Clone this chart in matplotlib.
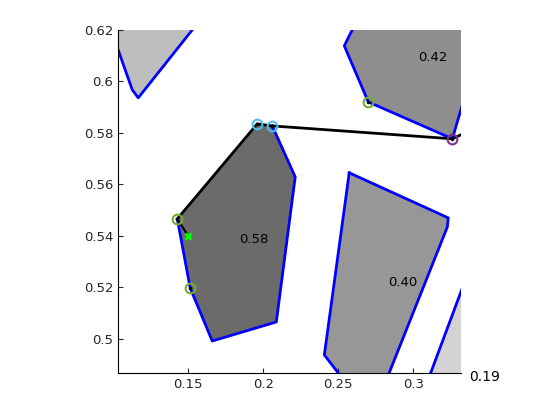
import matplotlib
matplotlib.use('Agg')
import matplotlib.pyplot as plt
from matplotlib.patches import Polygon

# Cell polygons (x, y) and their gray levels / labels
dark_x = [0.1427, 0.196, 0.206, 0.2213, 0.2087, 0.166, 0.1513]
dark_y = [0.5466, 0.5835, 0.5827, 0.5629, 0.5066, 0.4992, 0.5198]
topright_x = [0.2593, 0.254, 0.27, 0.326, 0.3327, 0.345, 0.27]
topright_y = [0.62, 0.6138, 0.592, 0.5777, 0.5909, 0.63, 0.63]
mid_x = [0.2573, 0.3233, 0.3227, 0.2813, 0.255, 0.2407]
mid_y = [0.5645, 0.547, 0.5435, 0.483, 0.483, 0.4938]
lowright_x = [0.3085, 0.3327, 0.34, 0.34]
lowright_y = [0.482, 0.5198, 0.5198, 0.482]
topleft_x = [0.10, 0.1033, 0.1127, 0.1167, 0.1527, 0.156]
topleft_y = [0.625, 0.6122, 0.5967, 0.5936, 0.62, 0.625]

labels = ['0.58', '0.42', '0.40']
label_x = [0.184, 0.3033, 0.283]
label_y = [0.5385, 0.6091, 0.5221]

# Path (black) and markers
path_x = [0.1427, 0.196, 0.206, 0.326, 0.34]
path_y = [0.5466, 0.5835, 0.5827, 0.5777, 0.5815]
green_x = [0.1427, 0.1513, 0.27]
green_y = [0.5466, 0.5198, 0.592]
cyan_x = [0.196, 0.206]
cyan_y = [0.5835, 0.5827]
purple_x = [0.326]
purple_y = [0.5777]
cross_x = [0.15]
cross_y = [0.54]

fig = plt.figure(figsize=(5.6, 4.2), dpi=100)
ax = fig.add_axes([0.211, 0.112, 0.612, 0.817])

ax.add_patch(Polygon(list(zip(topleft_x, topleft_y)), closed=True, fc='#bebebe', ec='none'))
ax.plot(topleft_x[1:5], topleft_y[1:5], color='blue', lw=2)
ax.add_patch(Polygon(list(zip(dark_x, dark_y)), closed=True, fc='#6b6b6b', ec='none'))
ax.plot(dark_x[2:] + dark_x[:1], dark_y[2:] + dark_y[:1], color='blue', lw=2)
ax.add_patch(Polygon(list(zip(topright_x, topright_y)), closed=True, fc='#8e8e8e', ec='none'))
ax.plot(topright_x[:5], topright_y[:5], color='blue', lw=2)
ax.add_patch(Polygon(list(zip(mid_x, mid_y)), closed=True, fc='#979797', ec='none'))
ax.plot(mid_x[:4], mid_y[:4], color='blue', lw=2)
ax.plot(mid_x[4:] + mid_x[:1], mid_y[4:] + mid_y[:1], color='blue', lw=2)
ax.add_patch(Polygon(list(zip(lowright_x, lowright_y)), closed=True, fc='#d3d3d3', ec='none'))
ax.plot(lowright_x[:2], lowright_y[:2], color='blue', lw=2)

ax.plot(path_x, path_y, color='black', lw=2)
ax.plot([green_x[0], cross_x[0]], [green_y[0], cross_y[0]], color='black', lw=1.5)
ax.plot(green_x, green_y, 'o', mfc='none', mec='#77ac30', ms=7, mew=1.5)
ax.plot(cyan_x, cyan_y, 'o', mfc='none', mec='#4dbeee', ms=7, mew=1.5)
ax.plot(purple_x, purple_y, 'o', mfc='none', mec='#7e2f8e', ms=7, mew=1.5)
ax.plot(green_x + cyan_x + purple_x, green_y + cyan_y + purple_y, 'k.', ms=3)
ax.plot(cross_x, cross_y, 'x', color='#00ff00', ms=5, mew=2)

for t, x, y in zip(labels, label_x, label_y):
    ax.text(x, y, t, fontsize=9.5, ha='left', va='center')

ax.set_xlim(0.1033, 0.3317)
ax.set_ylim(0.4868, 0.62)
ax.set_xticks([0.15, 0.2, 0.25, 0.3])
ax.set_xticklabels(['0.15', '0.2', '0.25', '0.3'])
ax.set_yticks([0.5, 0.52, 0.54, 0.56, 0.58, 0.6, 0.62])
ax.set_yticklabels(['0.5', '0.52', '0.54', '0.56', '0.58', '0.6', '0.62'])
ax.tick_params(labelsize=9.5, direction='in', colors='#262626')
ax.spines['top'].set_visible(False)
ax.spines['right'].set_visible(False)
fig.text(0.865, 0.103, '0.19', fontsize=10, ha='center', va='center')

plt.savefig('out.png', dpi=100)
plt.close()
